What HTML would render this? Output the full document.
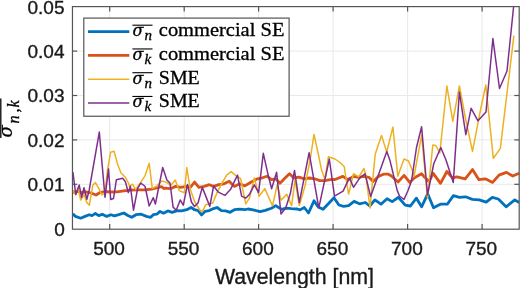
<!DOCTYPE html>
<html><head><meta charset="utf-8">
<style>
html,body{margin:0;padding:0;background:#fff;}
body{width:520px;height:288px;overflow:hidden;}
svg{display:block;}
.tk{font-family:"Liberation Sans",sans-serif;font-size:19px;fill:#1a1a1a;stroke:#1a1a1a;stroke-width:0.35px;}
.lg{font-family:"Liberation Serif",serif;font-size:18.5px;fill:#000;stroke:#000;stroke-width:0.3px;}
.mi{font-family:"Liberation Serif",serif;font-style:italic;}
.sg{font-family:"DejaVu Serif",serif;font-style:italic;}
</style></head>
<body>
<svg width="520" height="288" viewBox="0 0 520 288">
<defs><clipPath id="ax"><rect x="72.46" y="6.6" width="446.74" height="222.6"/></clipPath></defs>
<rect x="0" y="0" width="520" height="288" fill="#fff"/>
<!-- grid -->
<g stroke="#e9e9e9" stroke-width="1">
<line x1="109.7" y1="6.6" x2="109.7" y2="229.2"/>
<line x1="184.2" y1="6.6" x2="184.2" y2="229.2"/>
<line x1="258.6" y1="6.6" x2="258.6" y2="229.2"/>
<line x1="333.1" y1="6.6" x2="333.1" y2="229.2"/>
<line x1="407.6" y1="6.6" x2="407.6" y2="229.2"/>
<line x1="482.1" y1="6.6" x2="482.1" y2="229.2"/>
<line x1="72.5" y1="184.3" x2="519.2" y2="184.3"/>
<line x1="72.5" y1="139.9" x2="519.2" y2="139.9"/>
<line x1="72.5" y1="95.5" x2="519.2" y2="95.5"/>
<line x1="72.5" y1="51.1" x2="519.2" y2="51.1"/>
</g>
<!-- data -->
<g id="data" fill="none" stroke-linejoin="round" stroke-linecap="butt" clip-path="url(#ax)">
<polyline stroke="#0072BD" stroke-width="2.8" points="72.9,213.8 75.5,216.4 80.7,218.2 85,216.4 89.3,214.7 91.9,215.6 95.4,213.5 98.8,215.6 102.3,214.2 106.6,216.4 110.9,214.7 114.4,215.9 118.7,214.7 123.9,213 127.4,215.2 131.7,217.3 136,214.7 141.2,214.2 146.4,216.4 150.7,217.3 153.3,214.7 156.8,214.2 160,211.4 163.5,213.2 167.8,210.9 172.1,212.3 177.3,210.6 181.6,210.9 186.8,209.7 191.1,207.5 194.6,209.7 198.1,210.6 201.5,214.9 205,211.4 209.3,210.6 212.8,208.8 217.1,207.5 221.4,210.6 225.7,210.9 230.1,212.3 234.4,209.7 239.6,209.2 244.8,209.7 248,209 253.2,209.9 260.1,211.6 265.3,210.4 271.4,208.2 275.7,205.6 278.3,207.3 281.7,209.4 286.1,208.2 291.3,208.7 297.3,209 300,209.9 304.3,207.5 308.5,213 314,200.8 318.2,206.9 323.1,209.3 334,197.8 338.9,205 343.7,206.3 348.6,205.7 354.1,201.4 359.5,203.8 365.4,202.5 369.7,206 374.9,199.9 381,204.2 387,198.7 392.2,201.6 398.3,197.3 405.2,205.1 410.4,206 416.4,198.2 421.6,206.8 427.7,193.8 433.5,207.7 440.4,204.2 447.3,204.2 453.4,195.6 459.4,197.3 465.5,196.8 472.4,199.4 479.3,199.9 486.2,202.1 492.3,197.3 498.3,199 506.1,206.8 514.8,199.9 519.1,202.5"/>
<polyline stroke="#D95319" stroke-width="2.8" points="72.5,192.3 77,191.5 82,192.5 86,191.8 91,193 96,195 100,192.5 105,191.5 110,192 117,191.8 123.9,190.9 130.8,190.2 137.7,189.8 144.7,189.8 151.6,189.2 158.5,187.5 161.3,186.7 164,188.5 165.2,188.2 170.4,188.7 175.6,186.4 180.8,187.3 186,186.4 190.3,187.3 194.6,182.1 198.9,187.3 204.1,186.4 209.3,184.7 213.6,186.4 218.8,184.7 224,183.8 229.2,181.2 234.4,186.4 239.6,183.8 244.8,185.9 248,184 252.3,181.4 257.5,178.8 261.8,178 267,176.2 271.4,179.7 275.7,178.8 280,183.2 284.3,178.8 289.5,173.7 293.8,178 299,177.1 304.2,178.8 309.4,178 314.6,178.8 319.8,180.6 325,180.6 330.2,179.7 335,179.5 342.9,176.4 348.1,179.9 353.3,176.4 358.5,177.3 363.7,176.4 368.9,177.3 373.2,181.6 378.4,176.4 383.6,174.2 388,174.1 391.5,175.9 398,182 404.1,175.4 409.7,182.4 414.1,178 421.5,173.7 425.4,178 428.9,181.5 433.2,173.3 440.5,183.3 446.9,171.5 452.4,177.9 457,176.9 465.2,178.8 472.5,169.6 478.9,179.7 485.3,178.8 492.6,182.4 499,175.1 506.4,172.4 512.8,176 519.1,173.3"/>
<polyline stroke="#EDB120" stroke-width="1.5" points="72.9,190.4 75.5,194.7 78.1,187.8 80.7,200 84.2,194.7 86.8,202.5 89.4,205.1 92.8,185.2 95.4,182.6 98.9,188.6 102,195 105,192 107.5,170 110.6,152.2 114.1,151.3 117.6,164.3 121,173 125.4,177.3 128.5,183 129.5,186.5 132.5,184.2 135.6,189.4 140.8,182.1 145,175.8 149.2,163.3 152.3,188.3 156.5,186.25 161.7,181 165.8,182.1 171,185.2 175.2,180 179.2,190.6 184.4,192.7 186.8,167.5 190.2,189.1 194.5,201.25 199.75,210 202.4,211.7 205.8,204.7 212.8,203 217.1,192.6 221.5,183.9 226.7,175.2 231,171.7 235.3,175.2 240.6,178.7 245.7,203.9 249.5,198.2 254.3,178 259.1,196.3 264.8,188.6 272.5,205.8 277.2,184.8 281.1,200.1 286.8,194.4 291.6,205.8 295,180 299.3,205.5 305,186 310.3,159 314,134.4 318.5,155 321.6,170.3 325,179.3 328.4,156.8 335.1,159 340,162.5 344.2,166.5 346.25,180 348.6,194.1 353.5,173.75 358.75,176.9 364,168.5 366,175.8 370,208 375.2,154.2 381.5,135.4 386.7,152 392.9,127.1 397.8,176.25 404,159 408.5,161 412.2,170 414,176.5 421.6,135.3 427.5,198 432.8,145 435.6,145.4 439.8,153 446.9,86 452.8,121.4 459.4,86 465.8,120 472.5,151.4 480.8,108.3 485.8,85 493.3,158.3 500.3,148.6 513.9,35.7"/>
<polyline stroke="#7E2F8E" stroke-width="1.5" points="72.9,172.2 75.8,194.5 79.2,184.9 81.6,197.4 84,187.8 86.9,199.3 89.2,190 99.3,132.1 105,197.3 108.5,169 110.7,199.5 113.5,198.5 116.4,179.7 122.7,178.3 125.4,181.7 128.3,192.5 130.4,186.25 133.5,210.2 137.7,188.3 140.8,183.1 145,186.25 149.2,206 153.3,197.7 155.4,204 162.7,167.5 166.9,180 170,183.1 173.1,207.1 176.25,210.2 180.2,200 183.3,205.2 187.5,184.4 191.4,202 194.5,206.5 198,203 202.3,187.4 209.8,206.4 213.6,186 218.4,192.2 224.9,195.4 230.6,189.3 237.5,175.2 241.6,196.2 245.7,198.2 249.5,194.4 254.3,184.8 258.6,192.7 263.3,153.3 267.5,172.1 271.6,188.7 276.6,172.3 281,214 285.8,207.7 290.4,193.3 294.5,170.4 299.3,202.6 309.1,152.7 313.1,175.4 318.8,207.9 329.3,159 334.5,196.2 343.1,191.1 349.4,177.9 353.5,187.3 359.8,177.9 365,173.75 370.6,196.4 376.6,180 386.8,151.5 390,160.6 397.2,190.4 399.5,196 404,199.5 408,190.5 411.5,181 416.5,147.5 421.6,126.8 427.5,195 433.75,163.75 440.8,147.5 446,160 453.3,182.4 459.4,92 465.8,134.7 471.1,108.3 478,120.8 486,112 492.9,38.5 499.5,88.5 507,71 514.5,-2"/>
</g>
<!-- axes box -->
<rect x="72.46" y="6.6" width="446.74" height="222.6" fill="none" stroke="#555" stroke-width="1.2"/>
<g stroke="#555" stroke-width="1.2">
<line x1="109.7" y1="229.2" x2="109.7" y2="224"/><line x1="109.7" y1="6.6" x2="109.7" y2="11.4"/>
<line x1="184.2" y1="229.2" x2="184.2" y2="224"/><line x1="184.2" y1="6.6" x2="184.2" y2="11.4"/>
<line x1="258.6" y1="229.2" x2="258.6" y2="224"/><line x1="258.6" y1="6.6" x2="258.6" y2="11.4"/>
<line x1="333.1" y1="229.2" x2="333.1" y2="224"/><line x1="333.1" y1="6.6" x2="333.1" y2="11.4"/>
<line x1="407.6" y1="229.2" x2="407.6" y2="224"/><line x1="407.6" y1="6.6" x2="407.6" y2="11.4"/>
<line x1="482.1" y1="229.2" x2="482.1" y2="224"/><line x1="482.1" y1="6.6" x2="482.1" y2="11.4"/>
<line x1="72.5" y1="184.3" x2="77.2" y2="184.3"/><line x1="519.2" y1="184.3" x2="514.3" y2="184.3"/>
<line x1="72.5" y1="139.9" x2="77.2" y2="139.9"/><line x1="519.2" y1="139.9" x2="514.3" y2="139.9"/>
<line x1="72.5" y1="95.5" x2="77.2" y2="95.5"/><line x1="519.2" y1="95.5" x2="514.3" y2="95.5"/>
<line x1="72.5" y1="51.1" x2="77.2" y2="51.1"/><line x1="519.2" y1="51.1" x2="514.3" y2="51.1"/>
</g>
<!-- tick labels -->
<g class="tk" text-anchor="end">
<text x="64.9" y="236.2">0</text>
<text x="64.5" y="190.9">0.01</text>
<text x="64.5" y="146.5">0.02</text>
<text x="64.5" y="102.1">0.03</text>
<text x="64.5" y="57.7">0.04</text>
<text x="64.5" y="13.7">0.05</text>
</g>
<g class="tk" text-anchor="middle">
<text x="109.0" y="255">500</text>
<text x="183.5" y="255">550</text>
<text x="257.9" y="255">600</text>
<text x="332.4" y="255">650</text>
<text x="406.9" y="255">700</text>
<text x="481.3" y="255">750</text>
</g>
<text class="tk" x="294.4" y="284" text-anchor="middle" style="font-size:21.3px">Wavelength [nm]</text>
<!-- y label -->
<g transform="translate(13,138) rotate(-90)" class="lg">
<line x1="0" y1="-12.2" x2="39.5" y2="-12.2" stroke="#000" stroke-width="1.3"/>
<text class="sg" x="0.6" y="-1" style="font-size:18px">σ</text>
<text class="mi" x="14.6" y="5.5" style="font-size:16px">n</text>
<text x="25.4" y="5.5" style="font-size:16px">,</text>
<text class="mi" x="30.6" y="5.5" style="font-size:16px">k</text>
</g>
<!-- legend -->
<rect x="83.8" y="18.1" width="205.3" height="98.15" fill="#fff" stroke="#555" stroke-width="1.2"/>
<line x1="88" y1="31.60" x2="129.3" y2="31.60" stroke="#0072BD" stroke-width="2.8"/>
<line x1="132.4" y1="25.20" x2="152.5" y2="25.20" stroke="#000" stroke-width="1.1"/>
<text class="lg sg" x="132.6" y="36.10" style="font-size:16px">σ</text>
<text class="lg mi" x="144.6" y="40.00" style="font-size:15px">n</text>
<text class="lg" x="158.8" y="36.10" style="font-size:19px" textLength="125.6" lengthAdjust="spacingAndGlyphs">commercial SE</text>
<line x1="88" y1="55.40" x2="129.3" y2="55.40" stroke="#D95319" stroke-width="2.8"/>
<line x1="132.4" y1="48.95" x2="152.5" y2="48.95" stroke="#000" stroke-width="1.1"/>
<text class="lg sg" x="132.6" y="59.85" style="font-size:16px">σ</text>
<text class="lg mi" x="144.6" y="63.75" style="font-size:15px">k</text>
<text class="lg" x="158.8" y="59.85" style="font-size:19px" textLength="125.6" lengthAdjust="spacingAndGlyphs">commercial SE</text>
<line x1="88" y1="79.20" x2="129.3" y2="79.20" stroke="#EDB120" stroke-width="1.5"/>
<line x1="132.4" y1="72.70" x2="152.5" y2="72.70" stroke="#000" stroke-width="1.1"/>
<text class="lg sg" x="132.6" y="83.60" style="font-size:16px">σ</text>
<text class="lg mi" x="144.6" y="87.50" style="font-size:15px">n</text>
<text class="lg" x="158.8" y="83.60" style="font-size:19px" textLength="41" lengthAdjust="spacingAndGlyphs">SME</text>
<line x1="88" y1="103.00" x2="129.3" y2="103.00" stroke="#7E2F8E" stroke-width="1.5"/>
<line x1="132.4" y1="96.45" x2="152.5" y2="96.45" stroke="#000" stroke-width="1.1"/>
<text class="lg sg" x="132.6" y="107.35" style="font-size:16px">σ</text>
<text class="lg mi" x="144.6" y="111.25" style="font-size:15px">k</text>
<text class="lg" x="158.8" y="107.35" style="font-size:19px" textLength="41" lengthAdjust="spacingAndGlyphs">SME</text>
</svg>
</body></html>
